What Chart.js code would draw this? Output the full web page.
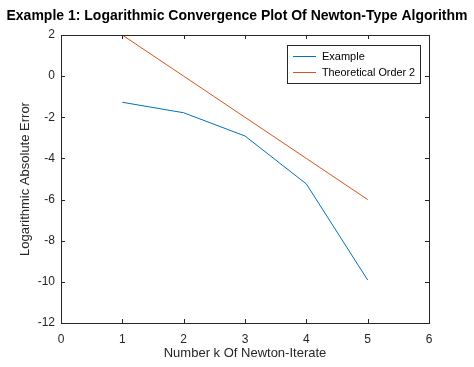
<!DOCTYPE html>
<html lang="en">
<head>
<meta charset="UTF-8">
<title>Logarithmic Convergence Plot</title>
<script src="https://cdn.jsdelivr.net/npm/chart.js"></script>
<style>
  body { margin: 0; background: #fff; }
</style>
</head>
<body>
<canvas id="plot" width="474" height="367"></canvas>
<script>
// data
const iterates = [1, 2, 3, 4, 5];
const exampleErr = [-1.27, -1.78, -2.91, -5.24, -9.91];
const theoreticalErr = [2, 0, -2, -4, -6];
const seriesNames = ['Example', 'Theoretical Order 2'];
const chartTitle = 'Example 1: Logarithmic Convergence Plot Of Newton-Type Algorithm';

const FONT = 'Liberation Sans, Arial, sans-serif';
const blue = '#0072BD';
const orange = '#D95319';

function pts(xs, ys) {
    return xs.map((x, i) => ({ x: x, y: ys[i] }));
}

// title, box around the axes + inward ticks on all four sides, boxed legend
// (title drawn here because the built-in one squeezes text to the padded width)
const frame = {
    id: 'frame',
    afterDraw(chart) {
        const { ctx, chartArea: a, scales } = chart;
        ctx.save();
        ctx.fillStyle = '#000';
        ctx.font = 'bold 14px ' + FONT;
        ctx.textAlign = 'center';
        ctx.textBaseline = 'middle';
        ctx.fillText(chartTitle, chart.width / 2, 16, 462);

        ctx.strokeStyle = '#262626';
        ctx.lineWidth = 1;
        ctx.strokeRect(a.left + 0.5, a.top + 0.5, a.right - a.left, a.bottom - a.top);
        ctx.beginPath();
        scales.x.ticks.forEach(t => {
            const px = Math.round(scales.x.getPixelForValue(t.value)) + 0.5;
            ctx.moveTo(px, a.bottom); ctx.lineTo(px, a.bottom - 4);
            ctx.moveTo(px, a.top); ctx.lineTo(px, a.top + 4);
        });
        scales.y.ticks.forEach(t => {
            const py = Math.round(scales.y.getPixelForValue(t.value)) + 0.5;
            ctx.moveTo(a.left, py); ctx.lineTo(a.left + 4, py);
            ctx.moveTo(a.right, py); ctx.lineTo(a.right - 4, py);
        });
        ctx.stroke();

        const bx = 287, by = 45, bw = 133, bh = 38;
        ctx.fillStyle = '#fff';
        ctx.fillRect(bx, by, bw, bh);
        ctx.strokeStyle = '#262626';
        ctx.strokeRect(bx + 0.5, by + 0.5, bw, bh);
        ctx.font = '11px ' + FONT;
        ctx.textAlign = 'left';
        chart.data.datasets.forEach((ds, i) => {
            const ly = by + 11.5 + i * 16;
            ctx.strokeStyle = ds.borderColor;
            ctx.beginPath();
            ctx.moveTo(bx + 6, ly); ctx.lineTo(bx + 29, ly);
            ctx.stroke();
            ctx.fillStyle = '#000';
            ctx.fillText(ds.label, bx + 35, ly, 93);
        });
        ctx.restore();
    }
};

new Chart(document.getElementById('plot'), {
    type: 'line',
    data: {
        datasets: [
            { label: seriesNames[0], data: pts(iterates, exampleErr), borderColor: blue, borderWidth: 1, pointRadius: 0, tension: 0 },
            { label: seriesNames[1], data: pts(iterates, theoreticalErr), borderColor: orange, borderWidth: 1, pointRadius: 0, tension: 0 }
        ]
    },
    options: {
        responsive: false,
        animation: false,
        layout: { padding: { top: 35, right: 45, bottom: 6, left: 18 } },
        plugins: {
            legend: { display: false },
            tooltip: { enabled: false },
            title: { display: false }
        },
        scales: {
            x: {
                type: 'linear',
                min: 0, max: 6,
                grid: { display: false, tickLength: 0 },
                border: { display: false },
                ticks: { stepSize: 1, color: '#262626', padding: 9, font: { family: FONT, size: 12 } },
                title: { display: true, text: 'Number k Of Newton-Iterate', color: '#262626', padding: { top: 1, bottom: 0 }, font: { family: FONT, size: 13 } },
                afterFit(scale) { scale.height = 38; }
            },
            y: {
                min: -12, max: 2,
                grid: { display: false, tickLength: 0 },
                border: { display: false },
                ticks: { stepSize: 2, color: '#262626', padding: 6, font: { family: FONT, size: 12 } },
                title: { display: true, text: 'Logarithmic Absolute Error', color: '#262626', padding: { top: 0, bottom: 4 }, font: { family: FONT, size: 13 } },
                afterFit(scale) { scale.width = 43; }
            }
        }
    },
    plugins: [frame]
});
</script>
</body>
</html>
